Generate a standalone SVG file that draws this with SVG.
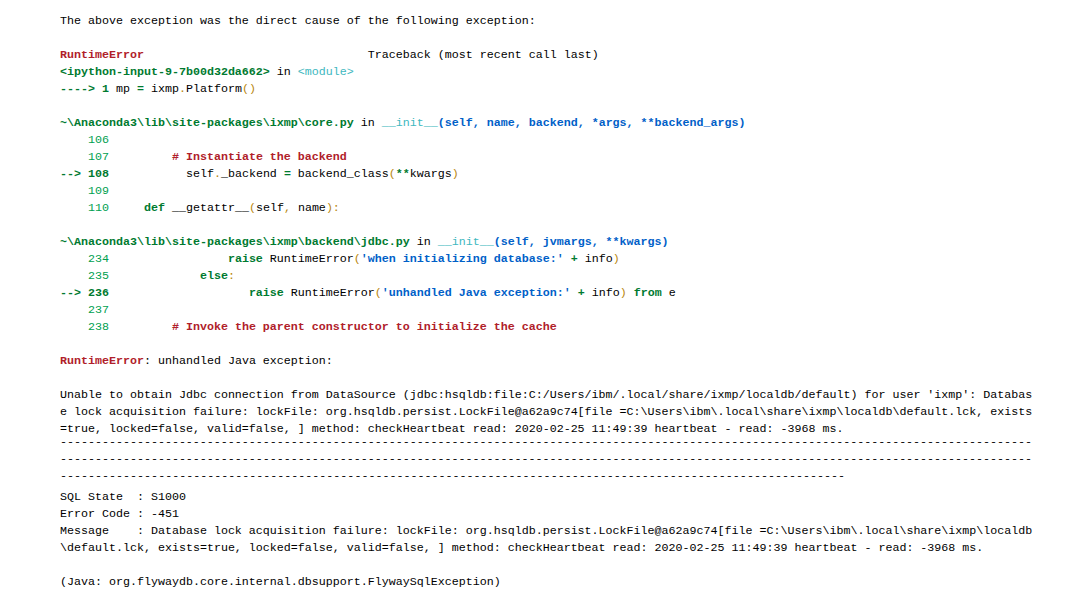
<svg xmlns="http://www.w3.org/2000/svg" width="1068" height="607" viewBox="0 0 1068 607">
<style>
text{font-family:"Liberation Mono","DejaVu Sans Mono",monospace;font-size:11.667px;fill:#000;white-space:pre}
.r{fill:#b0202a;font-weight:bold}.g{fill:#007a30;font-weight:bold}.n{fill:#00a050}.c{fill:#40b8c0}.b{fill:#0060c8;font-weight:bold}.y{fill:#b8860b}.k{fill:#007a30;font-weight:bold}
</style>
<rect width="1068" height="607" fill="#fff"/>
<g xml:space="preserve">
<text x="60" y="24">The above exception was the direct cause of the following exception:</text>
<text x="60" y="58"><tspan class="r">RuntimeError</tspan>                                Traceback (most recent call last)</text>
<text x="60" y="75"><tspan class="g">&lt;ipython-input-9-7b00d32da662&gt;</tspan> in <tspan class="c">&lt;module&gt;</tspan></text>
<text x="60" y="92"><tspan class="g">----&gt; 1 </tspan>mp <tspan class="g">=</tspan> ixmp<tspan class="y">.</tspan>Platform<tspan class="y">()</tspan></text>
<text x="60" y="126"><tspan class="g">~\Anaconda3\lib\site-packages\ixmp\core.py</tspan> in <tspan class="c">__init__</tspan><tspan class="b">(self, name, backend, *args, **backend_args)</tspan></text>
<text x="60" y="143"><tspan class="n">    106</tspan></text>
<text x="60" y="160"><tspan class="n">    107</tspan>         <tspan class="r"># Instantiate the backend</tspan></text>
<text x="60" y="177"><tspan class="g">--&gt; 108</tspan>           self<tspan class="y">.</tspan>_backend <tspan class="g">=</tspan> backend_class<tspan class="y">(</tspan><tspan class="g">**</tspan>kwargs<tspan class="y">)</tspan></text>
<text x="60" y="194"><tspan class="n">    109</tspan></text>
<text x="60" y="211"><tspan class="n">    110</tspan>     <tspan class="k">def</tspan> __getattr__<tspan class="y">(</tspan>self<tspan class="y">,</tspan> name<tspan class="y">):</tspan></text>
<text x="60" y="245"><tspan class="g">~\Anaconda3\lib\site-packages\ixmp\backend\jdbc.py</tspan> in <tspan class="c">__init__</tspan><tspan class="b">(self, jvmargs, **kwargs)</tspan></text>
<text x="60" y="262"><tspan class="n">    234</tspan>                 <tspan class="k">raise</tspan> RuntimeError<tspan class="y">(</tspan><tspan class="b">'when initializing database:'</tspan> <tspan class="g">+</tspan> info<tspan class="y">)</tspan></text>
<text x="60" y="279"><tspan class="n">    235</tspan>             <tspan class="k">else</tspan><tspan class="y">:</tspan></text>
<text x="60" y="296"><tspan class="g">--&gt; 236</tspan>                    <tspan class="k">raise</tspan> RuntimeError<tspan class="y">(</tspan><tspan class="b">'unhandled Java exception:'</tspan> <tspan class="g">+</tspan> info<tspan class="y">)</tspan> <tspan class="k">from</tspan> e</text>
<text x="60" y="313"><tspan class="n">    237</tspan></text>
<text x="60" y="330"><tspan class="n">    238</tspan>         <tspan class="r"># Invoke the parent constructor to initialize the cache</tspan></text>
<text x="60" y="364"><tspan class="r">RuntimeError</tspan>: unhandled Java exception:</text>
<text x="60" y="398">Unable to obtain Jdbc connection from DataSource (jdbc:hsqldb:file:C:/Users/ibm/.local/share/ixmp/localdb/default) for user 'ixmp': Databas</text>
<text x="60" y="415">e lock acquisition failure: lockFile: org.hsqldb.persist.LockFile@a62a9c74[file =C:\Users\ibm\.local\share\ixmp\localdb\default.lck, exists</text>
<text x="60" y="432">=true, locked=false, valid=false, ] method: checkHeartbeat read: 2020-02-25 11:49:39 heartbeat - read: -3968 ms.</text>
<text x="60" y="445" textLength="972">-------------------------------------------------------------------------------------------------------------------------------------------</text>
<text x="60" y="462" textLength="972">-------------------------------------------------------------------------------------------------------------------------------------------</text>
<text x="60" y="479" textLength="785">----------------------------------------------------------------------------------------------------------------</text>
<text x="60" y="500">SQL State  : S1000</text>
<text x="60" y="517">Error Code : -451</text>
<text x="60" y="534">Message    : Database lock acquisition failure: lockFile: org.hsqldb.persist.LockFile@a62a9c74[file =C:\Users\ibm\.local\share\ixmp\localdb</text>
<text x="60" y="551">\default.lck, exists=true, locked=false, valid=false, ] method: checkHeartbeat read: 2020-02-25 11:49:39 heartbeat - read: -3968 ms.</text>
<text x="60" y="585">(Java: org.flywaydb.core.internal.dbsupport.FlywaySqlException)</text>
</g>
</svg>
